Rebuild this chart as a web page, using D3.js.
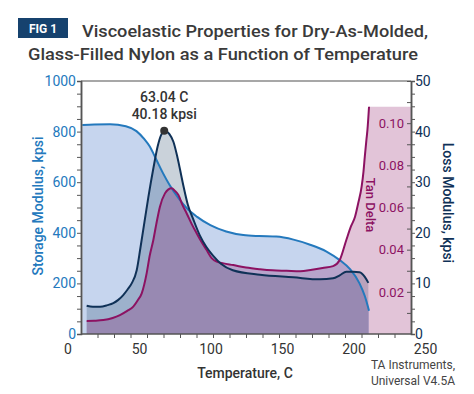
<!DOCTYPE html>
<html lang="en">
<head>
    <meta charset="UTF-8">
    <title>Viscoelastic Properties - Fig 1</title>
    <style>
        body { margin: 0; background: #fff; }
        text { font-family: Roboto, "Noto Sans", sans-serif; }
    </style>
</head>
<body>
<div id="chart"></div>

<script src="https://d3js.org/d3.v7.min.js"></script>
<script>
    // values: [temperature C, value]
    var storagePts = [[1,826],[10,828],[22,829],[34,821],[42,802],[48,770],[52,742],[57,690],[62,637],[67,590],
        [74,536],[80,498],[88,463],[98,430],[110,405],[123,391],[135,387],[148,385],[161,373],[173,354],
        [186,326],[196,292],[204,255],[211,200],[215,150],[218.2,92]];
    var lossPts = [[4.3,5.6],[9,5.4],[14.4,5.4],[20,5.7],[24.5,6.1],[28,6.7],[32,7.7],[35,8.7],[38.4,10],
        [42.2,12.6],[45,17],[48,22],[51,27],[55,33],[58,37],[61,39.5],[63.04,40.18],[65,40],[67,39.5],
        [70,38],[73,35],[77,30],[81,25.5],[85,22.7],[90,19.5],[95,17.2],[100,15.5],[106,13.9],[115,12.6],
        [135.6,11.7],[160.8,11.2],[181,10.8],[191,11],[196,11.6],[201,12.3],[206,12.3],[211,12.2],[215,11.3],[217.7,10.1]];
    var tanPts = [[4.3,0.0062],[10,0.0063],[16.9,0.0066],[24,0.0076],[29.5,0.009],[35,0.011],[39.6,0.013],
        [43,0.016],[46,0.0193],[49.8,0.029],[52,0.037],[54.8,0.0446],[57,0.052],[59.8,0.0604],[63.6,0.0667],
        [66,0.0685],[68.7,0.0691],[71,0.068],[73.7,0.066],[77,0.061],[80,0.0573],[84,0.052],[87.6,0.0478],
        [91,0.044],[95.2,0.0398],[99,0.036],[102.8,0.0343],[108,0.0335],[115.4,0.0327],[125,0.0315],
        [135.6,0.0307],[145,0.0302],[155.8,0.030],[166,0.0298],[175,0.0305],[183,0.0313],[191,0.0322],
        [196,0.0351],[201,0.0446],[204.5,0.051],[207.6,0.0556],[210,0.062],[212.6,0.0699],[214,0.077],
        [215,0.0841],[216.2,0.092],[217,0.0968],[218.2,0.1078]];
    var peak = {temp: 63.04, loss: 40.18};

    var xTicks = [0, 50, 100, 150, 200, 250];
    var storageTicks = [0, 200, 400, 600, 800, 1000];
    var lossTicks = [0, 10, 20, 30, 40, 50];
    var tanTicks = [0.02, 0.04, 0.06, 0.08, 0.10];
    var titleLines = ["Viscoelastic Properties for Dry-As-Molded,", "Glass-Filled Nylon as a Function of Temperature"];

    let vp = {width: 474, height: 394};
    let plot = {left: 81, right: 411, top: 81, bottom: 334};

    var svg = d3.select("#chart").append("svg")
        .attr("width", vp.width)
        .attr("height", vp.height);

    var x = d3.scaleLinear().domain([0, 250]).range([plot.left, plot.right]);
    // tick numbers under the axis sit a bit wider than the frame in the original figure
    var xLabel = d3.scaleLinear().domain([0, 250]).range([67.5, 425]);
    var yS = d3.scaleLinear().domain([0, 1000]).range([plot.bottom, plot.top]);
    var yL = d3.scaleLinear().domain([0, 50]).range([plot.bottom, plot.top]);
    var yT = d3.scaleLinear().domain([0, 0.12]).range([plot.bottom, plot.top]);

    var cStorage = "#2479bd", cLoss = "#0f3157", cTan = "#8c1262";

    // title
    svg.append("rect").attr("x", 18).attr("y", 18).attr("width", 50).attr("height", 20).attr("fill", "#16426e");
    svg.append("text").attr("x", 43).attr("y", 33).attr("text-anchor", "middle")
        .attr("fill", "#fff").style("font-size", "12px").style("font-weight", "700").text("FIG 1");
    svg.append("text").attr("x", 82).attr("y", 37).attr("textLength", 346).attr("lengthAdjust", "spacingAndGlyphs")
        .attr("fill", "#3a3a3a").style("font-size", "17px").style("font-weight", "500").text(titleLines[0]);
    svg.append("text").attr("x", 28).attr("y", 60).attr("textLength", 390).attr("lengthAdjust", "spacingAndGlyphs")
        .attr("fill", "#3a3a3a").style("font-size", "17px").style("font-weight", "500").text(titleLines[1]);

    // areas
    var areaS = d3.area().curve(d3.curveMonotoneX)
        .x(function(d) { return x(d[0]); }).y0(yS(0)).y1(function(d) { return yS(d[1]); });
    var areaL = d3.area().curve(d3.curveMonotoneX)
        .x(function(d) { return x(d[0]); }).y0(yL(0)).y1(function(d) { return yL(d[1]); });
    var areaT = d3.area().curve(d3.curveMonotoneX)
        .x(function(d) { return x(d[0]); }).y0(yT(0)).y1(function(d) { return yT(d[1]); });

    svg.append("path").attr("d", areaS(storagePts)).attr("fill", "#c6d5ee");
    svg.append("path").attr("d", areaL(lossPts)).attr("fill", "rgba(15,49,87,0.22)");
    // tan delta fill runs on to the right edge at its last value
    var tanLast = tanPts[tanPts.length - 1];
    svg.append("path").attr("d", areaT(tanPts.concat([[250, tanLast[1]]]))).attr("fill", "rgba(140,18,98,0.25)");

    // lines
    var lineS = d3.line().curve(d3.curveMonotoneX).x(function(d) { return x(d[0]); }).y(function(d) { return yS(d[1]); });
    var lineL = d3.line().curve(d3.curveMonotoneX).x(function(d) { return x(d[0]); }).y(function(d) { return yL(d[1]); });
    var lineT = d3.line().curve(d3.curveMonotoneX).x(function(d) { return x(d[0]); }).y(function(d) { return yT(d[1]); });

    svg.append("path").attr("d", lineS(storagePts)).attr("fill", "none").attr("stroke", cStorage).attr("stroke-width", 2);
    svg.append("path").attr("d", lineT(tanPts)).attr("fill", "none").attr("stroke", cTan).attr("stroke-width", 2);
    svg.append("path").attr("d", lineL(lossPts)).attr("fill", "none").attr("stroke", cLoss).attr("stroke-width", 2);

    // frame top
    svg.append("line").attr("x1", plot.left).attr("x2", plot.right).attr("y1", plot.top).attr("y2", plot.top)
        .attr("stroke", "#8a8a8a").attr("stroke-width", 1.5);

    // left axis (storage)
    var gS = svg.append("g").attr("transform", "translate(" + plot.left + ",0)")
        .call(d3.axisLeft(yS).tickValues(d3.range(0, 1001, 50)).tickSize(4).tickFormat(""));
    gS.append("g").call(d3.axisLeft(yS).tickValues(storageTicks).tickSize(0).tickPadding(5).tickFormat(d3.format("d")));
    gS.selectAll("text").attr("fill", cStorage).style("font-size", "14px").style("font-family", "Roboto");

    // right axis (loss)
    var gL = svg.append("g").attr("transform", "translate(" + plot.right + ",0)")
        .call(d3.axisRight(yL).tickValues(d3.range(0, 50.1, 2.5)).tickSize(4).tickFormat(""));
    gL.append("g").call(d3.axisRight(yL).tickValues(lossTicks).tickSize(0).tickPadding(4));
    gL.selectAll("text").attr("fill", cLoss).style("font-size", "14px").style("font-family", "Roboto");

    // tan delta ticks, inside the right edge
    var gT = svg.append("g").attr("transform", "translate(" + plot.right + ",0)")
        .call(d3.axisLeft(yT).tickValues(d3.range(0.01, 0.121, 0.01)).tickSize(4).tickFormat(""));
    gT.append("g").call(d3.axisLeft(yT).tickValues(tanTicks).tickSize(0).tickPadding(7).tickFormat(d3.format(".2f")));
    gT.selectAll(".domain").remove();
    gT.selectAll("text").attr("fill", cTan).style("font-size", "13px").style("font-family", "Roboto");

    // bottom axis
    var gX = svg.append("g").attr("transform", "translate(0," + plot.bottom + ")")
        .call(d3.axisBottom(x).tickValues(d3.range(12.5, 250, 12.5)).tickSize(4).tickFormat(""));
    gX.select(".domain").attr("d", "M" + plot.left + ",0H" + plot.right);
    svg.append("g").attr("transform", "translate(0," + plot.bottom + ")")
        .call(d3.axisBottom(xLabel).tickValues(xTicks).tickSize(0).tickPadding(10))
        .call(function(g) { g.select(".domain").remove(); })
        .selectAll("text").attr("fill", "#333").style("font-size", "14px").style("font-family", "Roboto");

    svg.selectAll(".domain").attr("stroke", "#555").attr("stroke-width", 1.5);
    svg.selectAll(".tick line").attr("stroke", "#555");

    // peak marker
    svg.append("circle").attr("cx", x(peak.temp)).attr("cy", yL(peak.loss)).attr("r", 4).attr("fill", "#333");
    svg.append("text").attr("x", x(peak.temp)).attr("y", 102).attr("text-anchor", "middle")
        .attr("fill", "#333").style("font-size", "14px").style("font-weight", "500").text(peak.temp + " C");
    svg.append("text").attr("x", x(peak.temp)).attr("y", 119).attr("text-anchor", "middle")
        .attr("fill", "#333").style("font-size", "14px").style("font-weight", "500").text(peak.loss + " kpsi");

    // axis titles
    svg.append("text").attr("transform", "translate(43,206) rotate(-90)").attr("text-anchor", "middle")
        .attr("fill", cStorage).style("font-size", "14px").style("font-weight", "500").text("Storage Modulus, kpsi");
    svg.append("text").attr("transform", "translate(443,203) rotate(90)").attr("text-anchor", "middle")
        .attr("fill", cLoss).style("font-size", "14px").style("font-weight", "500").text("Loss Modulus, kpsi");
    svg.append("text").attr("transform", "translate(366,205) rotate(90)").attr("text-anchor", "middle")
        .attr("fill", cTan).style("font-size", "13px").style("font-weight", "500").text("Tan Delta");
    svg.append("text").attr("x", 245).attr("y", 378).attr("text-anchor", "middle")
        .attr("fill", "#333").style("font-size", "14px").style("font-weight", "500").text("Temperature, C");
    svg.append("text").attr("x", 413).attr("y", 369).attr("text-anchor", "middle")
        .attr("fill", "#444").style("font-size", "12px").text("TA Instruments,");
    svg.append("text").attr("x", 413).attr("y", 385).attr("text-anchor", "middle")
        .attr("fill", "#444").style("font-size", "12px").text("Universal V4.5A");
</script>
</body>
</html>
